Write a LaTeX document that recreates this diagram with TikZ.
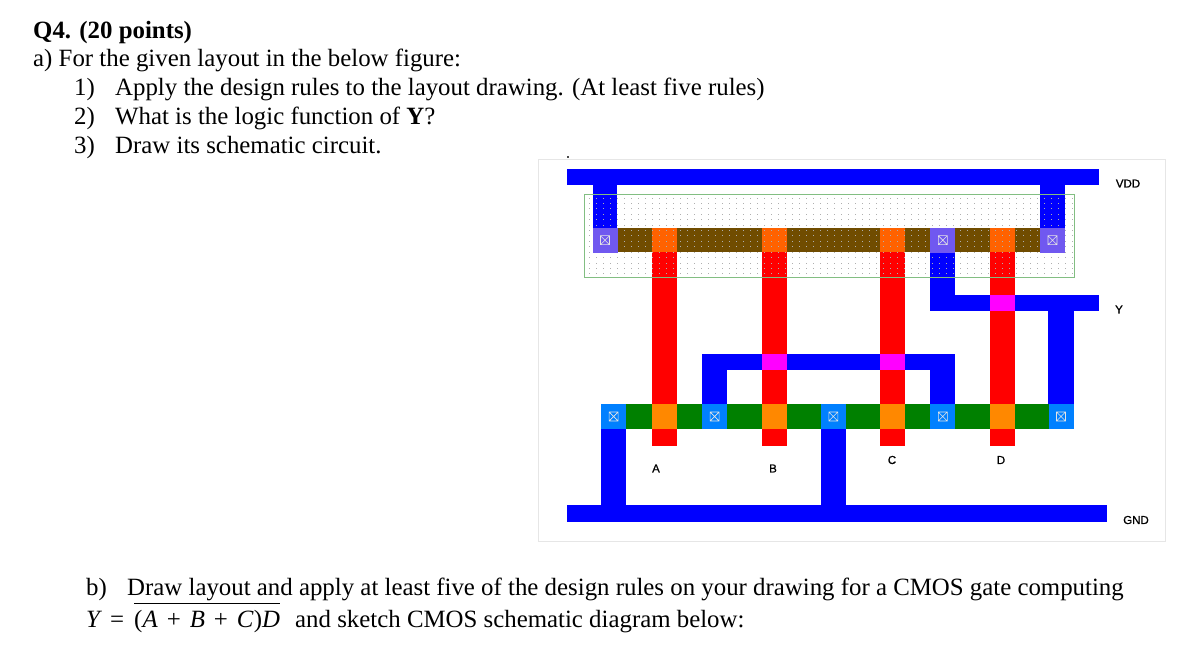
\documentclass[tikz,border=0pt]{standalone}
\usepackage[no-math]{fontspec}
\setmainfont{Liberation Serif}
\newfontfamily\labelfont[FakeBold=1]{Liberation Sans}
\definecolor{metal}{RGB}{0,0,255}
\definecolor{poly}{RGB}{255,0,0}
\definecolor{pdiff}{RGB}{112,76,0}
\definecolor{ndiff}{RGB}{0,128,0}
\definecolor{pgate}{RGB}{255,98,0}
\definecolor{ngate}{RGB}{255,136,0}
\definecolor{pcont}{RGB}{112,88,240}
\definecolor{ncont}{RGB}{0,128,255}
\definecolor{via}{RGB}{255,0,255}
\definecolor{well}{RGB}{130,190,130}
\definecolor{panel}{RGB}{230,230,230}
\definecolor{welldot}{RGB}{175,175,175}
\newcommand{\vr}[1]{\textit{#1}}
\tikzset{
  txt/.style={anchor=base west,inner sep=0pt,font=\fontsize{24.85}{28}\selectfont},
  lbl/.style={inner sep=0pt,font=\labelfont\fontsize{11.5}{12}\selectfont},
  cut/.style={minimum size=25pt,inner sep=0pt,outer sep=0pt,path picture={
    \draw[white!80!gray,line width=.6pt]
      ([shift={(-4.5pt,-4.5pt)}]path picture bounding box.center) rectangle
      ([shift={(4.5pt,4.5pt)}]path picture bounding box.center)
      ([shift={(-4.5pt,-4.5pt)}]path picture bounding box.center) --
      ([shift={(4.5pt,4.5pt)}]path picture bounding box.center)
      ([shift={(-4.5pt,4.5pt)}]path picture bounding box.center) --
      ([shift={(4.5pt,-4.5pt)}]path picture bounding box.center);}},
  pcut/.style={cut,fill=pcont},
  ncut/.style={cut,fill=ncont}
}
\begin{document}
\begin{tikzpicture}[x=1pt,y=-1pt]
\useasboundingbox (0,0) rectangle (1186,663);
% question text
\node[txt] (title) at (33,38.5) {\textbf{Q4. (20 points)}};
\node[txt] (parta) at (33,66.5) {a) For the given layout in the below figure:};
\node[txt] (num1) at (74,95.5) {1)};
\node[txt] (item1) at (115,95.5) {Apply the design rules to the layout drawing. (At least five rules)};
\node[txt] (num2) at (74,124.5) {2)};
\node[txt] (item2) at (115,124.5) {What is the logic function of \textbf{Y}?};
\node[txt] (num3) at (74,153.5) {3)};
\node[txt] (item3) at (115,153.5) {Draw its schematic circuit.};
\node[txt] (partb) at (86,595) {b)};
\node[txt] (itemb) at (127,595) {Draw layout and apply at least five of the design rules on your drawing for a CMOS gate computing};
\node[txt] (func) at (86,627) {\vr{Y}\hspace{8pt}=\hspace{10pt}$\overline{\mbox{\rule{0pt}{22pt}(\vr{A}\hspace{9pt}+\hspace{9pt}\vr{B}\hspace{9pt}+\hspace{9pt}\vr{C})\vr{D}}}$};
\node[txt] (itemc) at (295,627) {and sketch CMOS schematic diagram below:};
% layout frame
\draw[panel,line width=1pt] (538.5,159.5) rectangle (1165.5,541.5);
\fill[black!70] (567,156.5) rectangle (569,158);
% diffusion
\fill[pdiff] (617,228) rectangle (1040,252.3);
\fill[ndiff] (626,404.3) rectangle (1048.5,428.7);
% poly
\foreach \x in {651.7,761.7,879.7,989.5}{
  \fill[poly] (\x,252) rectangle (\x+25,446.3);
  \fill[pgate] (\x,228) rectangle (\x+25,252.3);
  \fill[ngate] (\x,404.3) rectangle (\x+25,428.7);
}
% metal
\fill[metal] (567.3,168.7) rectangle (1099.3,185.3);
\fill[metal] (567.3,505.3) rectangle (1107,521.7);
\fill[metal] (592.7,185) rectangle (617.3,228);
\fill[metal] (1040,185) rectangle (1065,228);
\fill[metal] (930.3,252) rectangle (955.3,311.3);
\fill[metal] (930.3,294.7) rectangle (1099.3,311.3);
\fill[metal] (1048.3,311) rectangle (1073.7,404.3);
\fill[metal] (702,353.7) rectangle (955.3,370.3);
\fill[metal] (702,370) rectangle (727.3,404.3);
\fill[metal] (930.3,370) rectangle (955.3,404.3);
\fill[metal] (601,428) rectangle (626.3,505.5);
\fill[metal] (820.7,428) rectangle (846,505.5);
% vias
\fill[via] (761.7,353.7) rectangle +(25,16.6);
\fill[via] (879.7,353.7) rectangle +(25,16.6);
\fill[via] (989.5,294.7) rectangle +(25,16.6);
% well
\foreach \y in {198,203.4,...,277}{
  \draw[welldot,line width=.6pt,dash pattern=on .7pt off 6.3pt] (589,\y) -- (1073,\y);
}
\draw[well,line width=.8pt] (584.3,194.3) rectangle (1074,277.7);
% contacts
\node[pcut] (cp1) at (605,240.2) {};
\node[pcut] (cp2) at (942.8,240.2) {};
\node[pcut] (cp3) at (1052.5,240.2) {};
\node[ncut] (cn1) at (613.6,416.5) {};
\node[ncut] (cn2) at (714.6,416.5) {};
\node[ncut] (cn3) at (833.3,416.5) {};
\node[ncut] (cn4) at (942.8,416.5) {};
\node[ncut] (cn5) at (1061,416.5) {};
% pin labels
\node[lbl] (vdd) at (1128,183.5) {VDD};
\node[lbl] (out) at (1119,309.5) {Y};
\node[lbl] (ina) at (656,468.5) {A};
\node[lbl] (inb) at (773,468.5) {B};
\node[lbl] (inc) at (892,460) {C};
\node[lbl] (ind) at (1001,460) {D};
\node[lbl] (gnd) at (1136,520) {GND};
\end{tikzpicture}
\end{document}
